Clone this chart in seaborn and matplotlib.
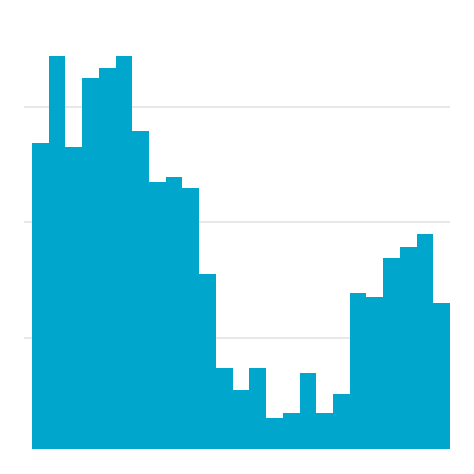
import matplotlib
matplotlib.use("Agg")
import matplotlib.pyplot as plt
import seaborn as sns
import pandas as pd

categories = [str(i) for i in range(1, 26)]
values = [26.9, 34.4, 26.5, 32.5, 33.4, 34.4, 27.9, 23.5, 23.9, 23.0,
          15.5, 7.4, 5.5, 7.4, 3.0, 3.5, 6.9, 3.5, 5.1, 13.9,
          13.5, 16.9, 17.9, 19.0, 13.0]
grid_values = [10, 20, 30]

df = pd.DataFrame({"cat": categories, "val": values})

sns.set_theme(style="white")
fig = plt.figure(figsize=(4.74, 4.74), dpi=100)
ax = fig.add_axes([24/474, (474-449.3)/474, 426/474, (449.3-20)/474])
sns.barplot(data=df, x="cat", y="val", color="#00a6cb", width=1.0,
            saturation=1, edgecolor="none", linewidth=0, ax=ax, zorder=2)
for g in grid_values:
    ax.axhline(g, color="#e8e8e8", linewidth=1.4, zorder=1)
ax.set_xlim(-0.98, 24.5)
ax.set_ylim(0.32, 37.54)
ax.set_xticks([])
ax.set_yticks([])
ax.set_xlabel("")
ax.set_ylabel("")
for s in ax.spines.values():
    s.set_visible(False)
fig.savefig("out.png", dpi=100, facecolor="white")
